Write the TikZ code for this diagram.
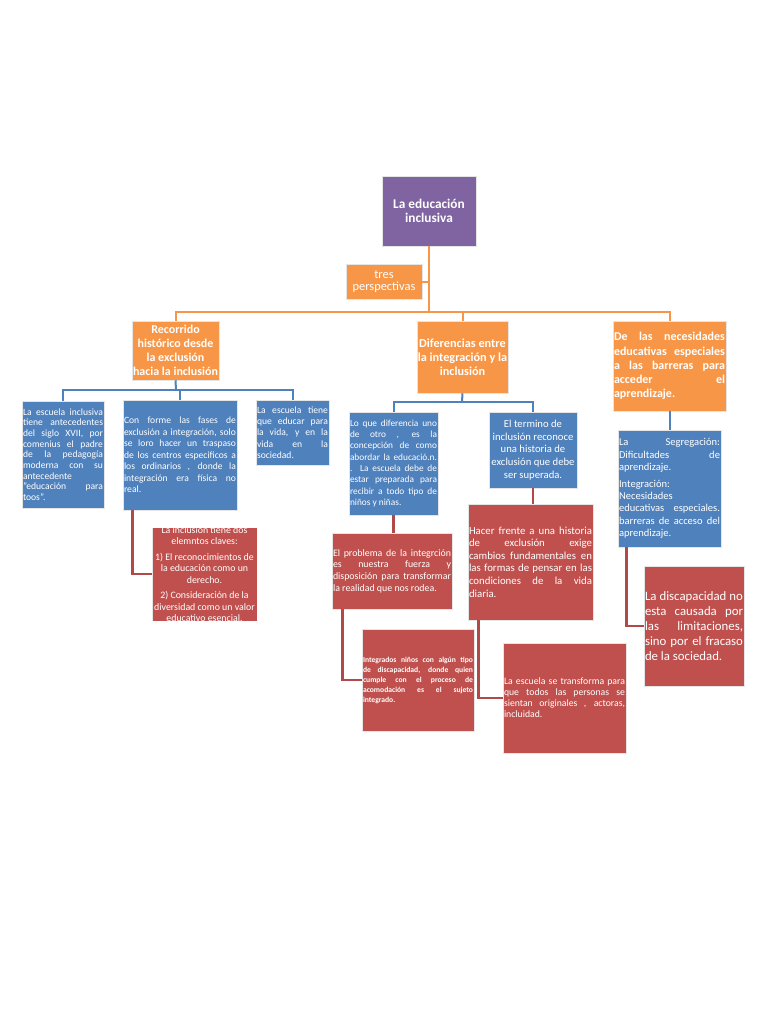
\documentclass[tikz,border=0pt]{standalone}
\usepackage{fontspec}
\setmainfont{Carlito}
\tolerance=10000 \hbadness=10000 \hyphenpenalty=10000 \exhyphenpenalty=10000
\definecolor{cpur}{HTML}{8064A2}
\definecolor{corg}{HTML}{F79646}
\definecolor{cblu}{HTML}{4F81BD}
\definecolor{cred}{HTML}{C0504D}
\newcommand\fsz[2]{\fontsize{#1}{#2}\selectfont}
\begin{document}
\begin{tikzpicture}[x=0.75pt,y=-0.75pt,
  rect/.code args={#1/#2/#3/#4}{%
    \pgfmathsetmacro\rw{(#3-#1)*0.75}%
    \pgfmathsetmacro\rh{(#4-#2)*0.75}%
    \pgfmathsetmacro\rtw{(#3-#1)*0.75-1.5}%
    \pgfmathsetmacro\rcx{(#1+#3)/2}%
    \pgfmathsetmacro\rcy{(#2+#4)/2}%
    \edef\rtmp{\noexpand\tikzset{minimum width=\rw pt,minimum height=\rh pt,text width=\rtw pt,at={(\rcx,\rcy)}}}%
    \rtmp},
  rectn/.code args={#1/#2/#3/#4}{%
    \pgfmathsetmacro\rw{(#3-#1)*0.75}%
    \pgfmathsetmacro\rh{(#4-#2)*0.75}%
    \pgfmathsetmacro\rcx{(#1+#3)/2}%
    \pgfmathsetmacro\rcy{(#2+#4)/2}%
    \edef\rtmp{\noexpand\tikzset{minimum width=\rw pt,minimum height=\rh pt,at={(\rcx,\rcy)}}}%
    \rtmp},
  box/.style={draw=black!10, line width=0.4pt, text=white, inner xsep=0.75pt, inner ysep=0pt, anchor=center},
  pbox/.style={box, fill=cpur},
  obox/.style={box, fill=corg},
  bbox/.style={box, fill=cblu},
  rbox/.style={box, fill=cred},
  oline/.style={draw=corg, line width=1.5pt},
  bline/.style={draw=cblu, line width=1.5pt},
  rline/.style={draw=cred!92!black, line width=2pt},
]
\useasboundingbox[fill=white] (0,0) rectangle (768,1024);

% level 0
\node[pbox, rectn=382/176/476/246, align=center, font=\bfseries\fsz{10}{11}] (root) {La educación\\inclusiva};
\node[obox, rectn=346/264/422/299, align=center, font=\fsz{9.3}{8.6}] (tres) {tres\\perspectivas};

% level 1
\node[obox, rectn=132/321/219/380, align=center, font=\bfseries\fsz{9}{10.5}] (rec) {Recorrido\\histórico desde\\la exclusión\\hacia la inclusión};
\node[obox, rectn=417/321/508/393, align=center, font=\bfseries\fsz{9.2}{10.5}] (dif) {Diferencias entre\\la integración y la\\inclusión};
\node[obox, rect=613/321/726/411, align=justify, font=\bfseries\fsz{9}{10.6}] (dl) {De las necesidades\linebreak educativas especiales\linebreak a las barreras para\linebreak acceder el\linebreak aprendizaje.};

% level 2 blue
\node[bbox, rect=22/401/104/508, align=justify, font=\fsz{7.2}{8}] (l1) {La escuela inclusiva\linebreak tiene antecedentes\linebreak del siglo XVII, por\linebreak comenius el padre\linebreak de la pedagogía\linebreak moderna con su\linebreak antecedente\hfil\break "educación para\linebreak toos".};
\node[bbox, rect=123/400/237/510, align=justify, font=\fsz{7.2}{8.6}] (l2) {Con forme las fases de\linebreak exclusión a integración, solo\linebreak se loro hacer un traspaso\linebreak de los centros especificos a\linebreak los ordinarios , donde la\linebreak integración era física no\linebreak real.};
\node[bbox, rect=256/400/329/465, align=justify, font=\fsz{7.2}{8.5}] (l3) {La escuela tiene\linebreak que educar para\linebreak la vida, y en la\linebreak vida en la\linebreak sociedad.};
\node[bbox, rect=349/412/438/515, align=justify, font=\fsz{7}{8.5}] (m1) {Lo que diferencia uno\linebreak de otro , es la\linebreak concepción de como\linebreak abordar la educació.n.\linebreak . La escuela debe de\linebreak estar preparada para\linebreak recibir a todo tipo de\linebreak niños y niñas.};
\node[bbox, rectn=489/412/577/488, align=center, font=\fsz{8}{9.5}] (m2) {El termino de\\inclusión reconoce\\una historia de\\exclusión que debe\\ser superada.};
\node[bbox, rect=618/430/721/547, align=justify, font=\fsz{7.9}{9.3}] (r1) {La Segregación:\linebreak Dificultades de\linebreak aprendizaje.\par\vspace{3pt}Integración:\hfil\break Necesidades\hfil\break educativas especiales.\linebreak barreras de acceso del\linebreak aprendizaje.};

% level 3 red
\begin{scope}
\clip (152,528) rectangle (257,620);
\node[rbox, rectn=152/528/257/620, align=center, font=\fsz{7.4}{8.6}] (red1) {La inclusión tiene dos\\elemntos claves:\\[3pt]1) El reconocimientos de\\la educación como un\\derecho.\\[3pt]2) Consideración de la\\diversidad como un valor\\educativo esencial.};
\end{scope}
\node[rbox, rect=332/533/452/609, align=justify, font=\fsz{7.4}{8.8}] (prob) {El problema de la integrción\linebreak es nuestra fuerza y\linebreak disposición para transformar\linebreak la realidad que nos rodea.};
\node[rbox, rect=468/504/593/620, align=justify, font=\fsz{8.1}{9.4}] (hac) {Hacer frente a una historia\linebreak de exclusión exige\linebreak cambios fundamentales en\linebreak las formas de pensar en las\linebreak condiciones de la vida\linebreak diaria.};
\node[rbox, rect=362/629/474/731, align=justify, font=\bfseries\fsz{5.7}{7.5}] (integ) {Integrados niños con algún tipo\linebreak de discapacidad, donde quien\linebreak cumple con el proceso de\linebreak acomodación es el sujeto\linebreak integrado.};
\node[rbox, rect=503/643/626/753, align=justify, font=\fsz{7.3}{8.3}] (esc) {La escuela se transforma para\linebreak que todos las personas se\linebreak sientan originales , actoras,\linebreak incluidad.};
\node[rbox, rect=644/566/744/686, align=justify, font=\fsz{9.6}{11.2}] (disc) {La discapacidad no\linebreak esta causada por\linebreak las limitaciones,\linebreak sino por el fracaso\linebreak de la sociedad.};

% orange connectors
\coordinate (ob) at (429,312);
\draw[oline] (root.south) -- (ob);
\draw[oline] (tres.east) -- (tres.east -| root.south);
\draw[oline] (rec.north) |- (ob) -| (dl.north);
\draw[oline] (dif.north) -- (dif.north |- ob);

% blue connectors
\coordinate (bb) at (176,390);
\draw[bline] (rec.south) -- (bb);
\draw[bline] (l1.north) |- (bb) -| (l3.north);
\draw[bline] (l2.north) -- (l2.north |- bb);
\coordinate (db) at (462,402);
\draw[bline] (dif.south) -- (db);
\draw[bline] (m1.north) |- (db) -| (m2.north);
\draw[bline] (dl.south) -- (dl.south |- r1.north);

% red connectors
\draw[rline] ([xshift=7.5pt]l2.south west) |- (red1.west);
\draw[rline] (m1.south) -- (m1.south |- prob.north);
\draw[rline] (m2.south) -- (m2.south |- hac.north);
\draw[rline] ([xshift=8.25pt]prob.south west) |- (integ.west);
\draw[rline] ([xshift=8.25pt]hac.south west) |- (esc.west);
\draw[rline] ([xshift=6.75pt]r1.south west) |- (disc.west);
\end{tikzpicture}
\end{document}
